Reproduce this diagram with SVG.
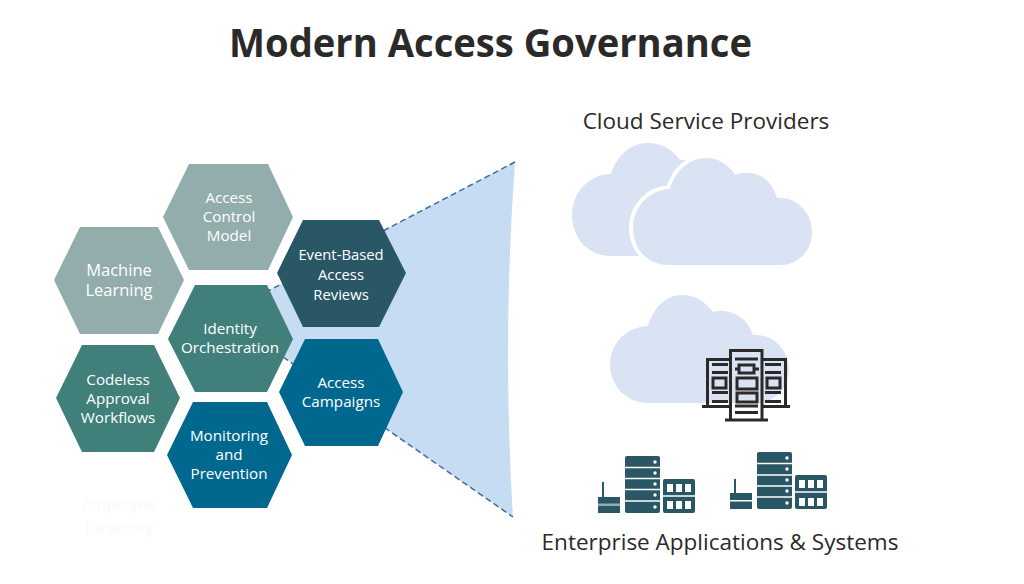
<svg xmlns="http://www.w3.org/2000/svg" width="1024" height="584" viewBox="0 0 1024 584">
<style>
text{font-family:"Open Sans","Noto Sans","Liberation Sans",sans-serif;text-anchor:middle}
.t{font-size:39px;font-weight:700;fill:#2b2a28}
.h{font-size:22.5px;fill:#2b2a28}
.n{font-size:15.2px;fill:#fff}
.g1{fill:#93adad}.g2{fill:#417f7b}.g3{fill:#00688f}.g4{fill:#2a5766}
.cl{fill:#d9e3f4}
.ghost{font-size:16px;fill:#fafafa}
.d{fill:#2a5766}
.w{fill:#fff}
.k{fill:none;stroke:#2c2a28;stroke-width:3}
.kf{fill:#2c2a28}
</style>
<rect width="1024" height="584" fill="#fff"/>
<text class="t" x="490.500" y="57" textLength="523" lengthAdjust="spacingAndGlyphs">Modern Access Governance</text>
<text class="h" x="706" y="129">Cloud Service Providers</text>
<text class="h" x="720" y="550">Enterprise Applications &amp; Systems</text>
<g id="connectors">
<path d="M515 162L268 291L283 357L513 517Q502 340 515 162Z" fill="#c6dcf2"/>
<path d="M515 162L268 291M283 357L513 517" fill="none" stroke="#3f6d9f" stroke-width="1.500" stroke-dasharray="6 3.500"/>
</g>
<g id="hex-access-control"><polygon class="g1" points="163,217 189,164 268,164 293,217 268,270 189,270"/><text class="n"><tspan x="229" y="203">Access</tspan><tspan x="229" y="222">Control</tspan><tspan x="229" y="241">Model</tspan></text></g>
<g id="hex-machine-learning"><polygon class="g1" points="54,280 80,227 158,227 184,280 158,334 80,334"/><text class="n" style="font-size:16.500px"><tspan x="119" y="276">Machine</tspan><tspan x="119" y="296">Learning</tspan></text></g>
<g id="hex-identity"><polygon class="g2" points="168,339 195,285 267,285 293,339 267,392 195,392"/><text class="n"><tspan x="230" y="334">Identity</tspan><tspan x="230" y="353">Orchestration</tspan></text></g>
<g id="hex-codeless"><polygon class="g2" points="56,398 82,345 154,345 180,398 154,452 82,452"/><text class="n"><tspan x="118" y="385">Codeless</tspan><tspan x="118" y="404">Approval</tspan><tspan x="118" y="423">Workflows</tspan></text></g>
<g id="hex-monitoring"><polygon class="g3" points="167,455 193,402 267,402 292,455 267,508 193,508"/><text class="n"><tspan x="229" y="441">Monitoring</tspan><tspan x="229" y="460">and</tspan><tspan x="229" y="479">Prevention</tspan></text></g>
<g id="hex-event"><polygon class="g4" points="277,273 303,220 379,220 406,273 379,327 303,327"/><text class="n" style="font-size:14.800px"><tspan x="341" y="260">Event-Based</tspan><tspan x="341" y="280">Access</tspan><tspan x="341" y="300">Reviews</tspan></text></g>
<g id="hex-campaigns"><polygon class="g3" points="279,392 305,339 378,339 403,392 378,446 305,446"/><text class="n"><tspan x="341" y="388">Access</tspan><tspan x="341" y="407">Campaigns</tspan></text></g>
<g id="employee-directory"><text class="ghost"><tspan x="119" y="510">Employee</tspan><tspan x="119" y="534">Directory</tspan></text></g>
<g id="cloud-service-providers">
<path class="cl" d="M611 256C588 256 572 238 572 215C572 192 590 174 611 174C617 155 631 143 648 143C662 143 673 150 680 160L690 160L720 256Z"/>
<path class="cl" stroke="#fff" stroke-width="8" paint-order="stroke" d="M668 265C648 265 633 249 633 228C633 207 649 190 670 189C675 171 689 158 706 158C718 158 728 164 735 175C739 173 744 173 748 173C762 173 773 183 777 198L780 198C798 198 812 213 812 232C812 251 798 265 781 265Z"/>
</g>
<g id="cloud-datacenter">
<path class="cl" d="M648 403C627 403 610 386 610 365C610 344 626 327 648 326C653 308 666 295 682 295C695 295 706 302 713 312C716 311 719 311 722 311C736 311 749 321 753 335L756 335C774 335 789 351 789 369C789 388 774 403 756 403Z"/>
<path class="k" d="M707.500 406V359.500H729M785.500 406V359.500H763M730.500 420V350.500H762V420"/>
<path class="kf" d="M702 405H729V408H702ZM763 405H790V408H763ZM725 418.500H768V421.500H725Z"/>
<path class="k" d="M712 364.500H728M712 372.500H728M712 392.500H728M712 401.500H728M765 364.500H781M765 372.500H781M765 392.500H781M765 401.500H781M735 359H758M735 406H758M735 412.500H758"/>
<rect class="k" x="713" y="378" width="13" height="10"/><rect class="k" x="767" y="378" width="13" height="10"/>
<rect class="k" x="739" y="365" width="15" height="8"/><path class="k" d="M735 369H739M754 369H759"/>
<rect class="k" x="737" y="378" width="20" height="11"/><rect class="k" x="737" y="393" width="20" height="9"/>
</g>
<g id="onprem-left" class="d">
<rect x="625" y="456" width="35" height="57" rx="2"/><g stroke="#fff" stroke-width="1.500"><path d="M625 467.500H660M625 478.500H660M625 489.500H660M625 501H660"/></g>
<g class="w"><circle cx="655" cy="462" r="1.700"/><circle cx="655" cy="473" r="1.700"/><circle cx="655" cy="484" r="1.700"/><circle cx="655" cy="495" r="1.700"/><circle cx="655" cy="507" r="1.700"/></g>
<rect x="663" y="479" width="32" height="34" rx="2"/><path d="M663 496H695" stroke="#fff" stroke-width="1.500"/>
<g class="w"><rect x="667" y="484" width="6" height="8"/><rect x="676" y="484" width="6" height="8"/><rect x="685" y="484" width="6" height="8"/><rect x="667" y="501" width="6" height="8"/><rect x="676" y="501" width="6" height="8"/><rect x="685" y="501" width="6" height="8"/></g>
<rect x="598" y="497" width="22" height="16"/><rect x="602" y="482" width="2" height="15"/><rect x="598" y="503.500" width="22" height="2.500" fill="#93adad"/>
</g>
<g id="onprem-right" class="d">
<rect x="757" y="452" width="35" height="57" rx="2"/><g stroke="#fff" stroke-width="1.500"><path d="M757 463.500H792M757 475H792M757 486H792M757 497H792"/></g>
<g class="w"><circle cx="787" cy="458" r="1.700"/><circle cx="787" cy="469" r="1.700"/><circle cx="787" cy="480" r="1.700"/><circle cx="787" cy="491" r="1.700"/><circle cx="787" cy="503" r="1.700"/></g>
<rect x="795" y="475" width="32" height="34" rx="2"/><path d="M795 492H827" stroke="#fff" stroke-width="1.500"/>
<g class="w"><rect x="799" y="480" width="6" height="8"/><rect x="808" y="480" width="6" height="8"/><rect x="817" y="480" width="6" height="8"/><rect x="799" y="498" width="6" height="8"/><rect x="808" y="498" width="6" height="8"/><rect x="817" y="498" width="6" height="8"/></g>
<rect x="730" y="493" width="22" height="16"/><rect x="734" y="479" width="2" height="14"/><rect x="730" y="500" width="22" height="1.500" fill="#fff"/>
</g>
</svg>
